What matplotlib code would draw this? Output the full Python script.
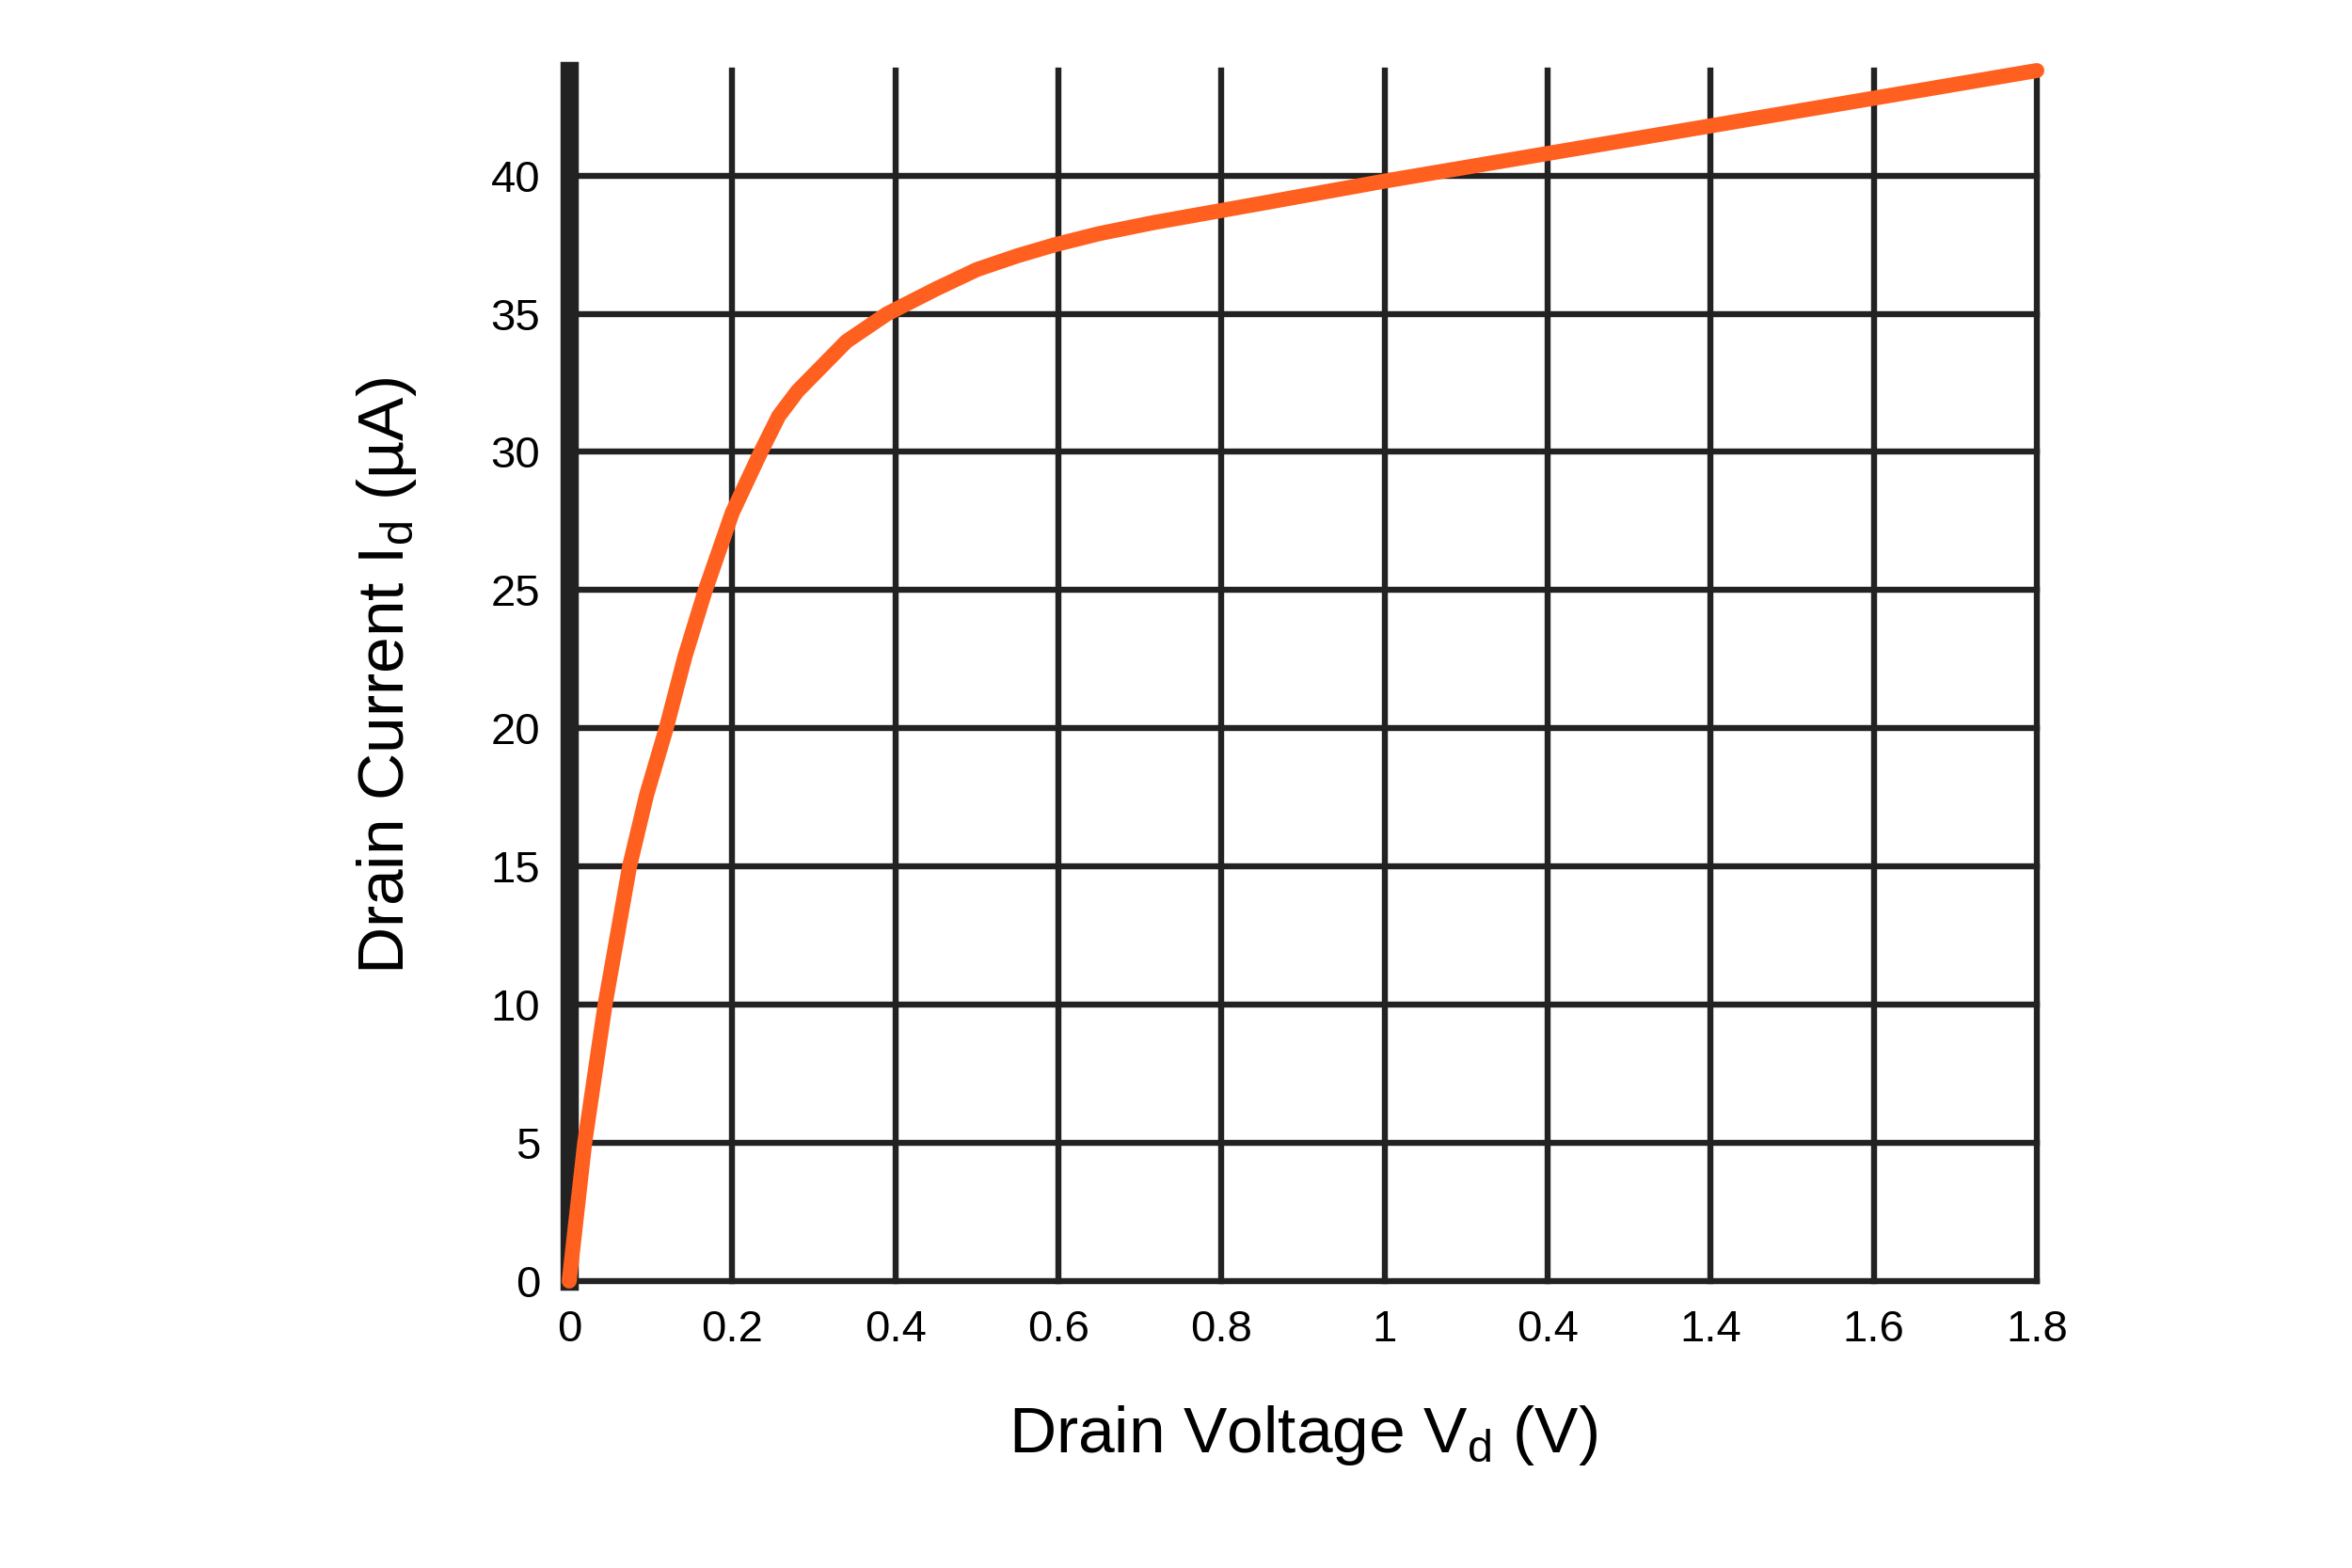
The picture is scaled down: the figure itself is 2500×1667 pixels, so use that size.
import numpy as np
import matplotlib
matplotlib.use('Agg')
import matplotlib.pyplot as plt

plt.rcParams['font.family'] = ['Liberation Sans', 'DejaVu Sans']

# curve
vd = [0.0, 0.019, 0.044, 0.074, 0.095, 0.119, 0.142, 0.167, 0.20, 0.235, 0.257, 0.28, 0.30, 0.34, 0.39, 0.45, 0.50, 0.55, 0.596, 0.65, 0.717, 0.85, 1.0, 1.2, 1.4, 1.6, 1.8]
idr = [0.0, 5.0, 10.0, 15.0, 17.6, 20.0, 22.6, 25.0, 27.8, 30.0, 31.3, 32.2, 32.8, 34.0, 35.0, 35.9, 36.6, 37.1, 37.5, 37.9, 38.3, 39.0, 39.8, 40.8, 41.8, 42.8, 43.8]

xticks = [0, 0.2, 0.4, 0.6, 0.8, 1.0, 1.2, 1.4, 1.6, 1.8]
xlabels = ['0', '0.2', '0.4', '0.6', '0.8', '1', '0.4', '1.4', '1.6', '1.8']
yticks = [0, 5, 10, 15, 20, 25, 30, 35, 40]

fig = plt.figure(figsize=(25, 16.67), dpi=100)
ax = fig.add_axes([0.242, 0.183, 0.866 - 0.242, 0.955 - 0.183])

gc = '#222222'
for x in xticks[1:]:
    ax.axvline(x, color=gc, lw=4.6, zorder=1, clip_on=False)
for y in yticks:
    ax.axhline(y, color=gc, lw=4.6, zorder=1, clip_on=False)
ax.axvline(0, color=gc, lw=14, zorder=1, clip_on=False)

ax.plot(vd, idr, color='#ff5f1f', lw=11.5, solid_capstyle='round',
        solid_joinstyle='round', zorder=3, clip_on=False)

ax.set_xlim(0, 1.8)
ax.set_ylim(0, 43.8)
for s in ax.spines.values():
    s.set_visible(False)
ax.set_xticks(xticks)
ax.set_xticklabels(xlabels)
ax.set_yticks(yticks)
ax.tick_params(length=0, labelsize=34, pad=22)

ax.set_xlabel('Drain Voltage V$\\mathregular{_d}$ (V)', fontsize=50, labelpad=40)
ax.set_ylabel('Drain Current I$\\mathregular{_d}$ (\u00b5A)', fontsize=50, labelpad=55)

fig.savefig('out.png', dpi=100, facecolor='white')
